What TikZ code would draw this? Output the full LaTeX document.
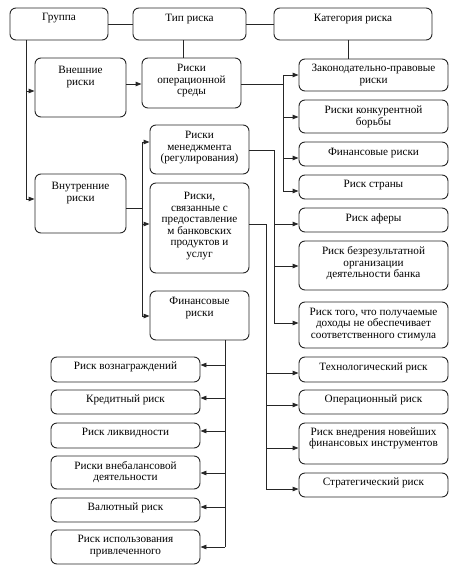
\documentclass[tikz,border=0pt]{standalone}
\usepackage{fontspec}
\setmainfont{Liberation Serif}
\newfontfamily\tnr{Liberation Serif}
\usetikzlibrary{arrows.meta,calc}
\tikzset{
  box/.style={draw=black!85, line width=0.9pt, rounded corners=6pt, inner sep=0pt},
  txt/.style={font=\tnr\fontsize{11.2}{11.5}\selectfont, align=center, inner sep=0pt, anchor=north},
  ln/.style={draw=black!85, line width=0.9pt},
  arr/.style={ln, -{Triangle[length=6pt,width=4.5pt]}}
}
% name, x1, x2, y1, y2, text offset, text
\newcommand\rbox[7]{%
  \node[box, minimum width={#3-#2}, minimum height={#5-#4}] (#1) at ({(#2+#3)/2},{-(#4+#5)/2}) {};
  \node[txt] (#1t) at ({(#2+#3)/2},{-#4-#6}) {#7};
}
\begin{document}
\begin{tikzpicture}[x=1pt,y=1pt]
\useasboundingbox (0,0) rectangle (457,-567);
% header
\rbox{grp}{10}{108}{8}{40}{5}{Группа}
\rbox{typ}{133}{246}{8}{40}{6}{Тип риска}
\rbox{cat}{274}{432}{8}{40}{6}{Категория риска}
% groups
\rbox{ext}{35}{126}{58}{117}{8}{Внешние\\риски}
\rbox{int}{35}{126}{174}{233}{8}{Внутренние\\риски}
% types
\rbox{opr}{142}{241}{58}{108}{6}{Риски\\операционной\\среды}
\rbox{men}{150}{249}{125}{174}{6}{Риски\\менеджмента\\(регулирования)}
\rbox{svz}{150}{249}{183}{273}{9}{Риски,\\связанные с\\предоставление\\м банковских\\продуктов и\\услуг}
\rbox{fin2}{150}{249}{291}{340}{6}{Финансовые\\риски}
% right categories
\rbox{zak}{299}{448}{59}{91}{5}{Законодательно-правовые\\риски}
\rbox{kon}{299}{448}{100}{133}{6}{Риски конкурентной\\борьбы}
\rbox{fin1}{299}{448}{142}{166}{6}{Финансовые риски}
\rbox{str}{299}{448}{175}{199}{5}{Риск страны}
\rbox{afe}{299}{448}{208}{232}{6}{Риск аферы}
\rbox{bez}{299}{448}{241}{290}{5.5}{Риск безрезультатной\\организации\\деятельности банка}
\rbox{tog}{299}{448}{302}{348}{5.5}{Риск того, что получаемые\\доходы не обеспечивает\\соответственного стимула}
\rbox{teh}{299}{448}{357}{382}{5.5}{Технологический риск}
\rbox{opn}{299}{448}{390}{414}{5}{Операционный риск}
\rbox{vnd}{299}{448}{423}{464}{4.5}{Риск внедрения новейших\\финансовых инструментов}
\rbox{stg}{299}{448}{473}{497}{4.5}{Стратегический риск}
% left categories
\rbox{voz}{51}{200}{357}{382}{5}{Риск вознаграждений}
\rbox{kre}{51}{200}{390}{414}{5}{Кредитный риск}
\rbox{lik}{51}{200}{423}{448}{4.5}{Риск ликвидности}
\rbox{vnb}{51}{200}{456}{489}{5}{Риски внебалансовой\\деятельности}
\rbox{val}{51}{200}{498}{522}{4.5}{Валютный риск}
\rbox{isp}{51}{200}{530}{564}{5}{Риск использования\\привлеченного}
% header links
\draw[ln] (grp.east) -- (typ.west);
\draw[ln] (typ.east) -- (cat.west);
\coordinate (cx1) at (183,0);
\coordinate (cx2) at (348,0);
\draw[ln] (typ.south -| cx1) -- (opr.north -| cx1);
\draw[ln] (cat.south -| cx2) -- (zak.north -| cx2);
% group trunk
\coordinate (g0) at (26,-40);
\coordinate (g1) at (26,-91);
\coordinate (g2) at (26,-199);
\draw[ln] (g0) -- (g2);
\draw[arr] (g1) -- (ext.west |- g1);
\draw[arr] (g2) -- (int.west |- g2);
% external -> operational
\coordinate (e1) at (0,-84);
\draw[arr] (ext.east |- e1) -- (opr.west |- e1);
% operational trunk
\coordinate (a0) at (283,-75);
\coordinate (a1) at (283,-117);
\coordinate (a2) at (283,-158);
\coordinate (a3) at (283,-191);
\draw[ln] (opr.east |- e1) -- (a0 |- e1);
\draw[ln] (a0) -- (a3);
\draw[arr] (a0) -- (zak.west |- a0);
\draw[arr] (a1) -- (kon.west |- a1);
\draw[arr] (a2) -- (fin1.west |- a2);
\draw[arr] (a3) -- (str.west |- a3);
% internal trunk
\coordinate (b0) at (142,-142);
\coordinate (b1) at (142,-224);
\coordinate (b2) at (142,-316);
\coordinate (bi) at (142,-208);
\draw[ln] (int.east |- bi) -- (bi);
\draw[ln] (b0) -- (b2);
\draw[arr] (b0) -- (men.west |- b0);
\draw[arr] (b1) -- (svz.west |- b1);
\draw[arr] (b2) -- (fin2.west |- b2);
% management trunk
\coordinate (m0) at (274,-150);
\coordinate (m1) at (274,-224);
\coordinate (m2) at (274,-266);
\coordinate (m3) at (274,-323);
\draw[ln] (men.east |- m0) -- (m0) -- (m3);
\draw[arr] (m1) -- (afe.west |- m1);
\draw[arr] (m2) -- (bez.west |- m2);
\draw[arr] (m3) -- (tog.west |- m3);
% products trunk
\coordinate (s0) at (266,-224);
\coordinate (s1) at (266,-373);
\coordinate (s2) at (266,-405);
\coordinate (s3) at (266,-448);
\coordinate (s4) at (266,-489);
\draw[ln] (svz.east |- s0) -- (s0) -- (s4);
\draw[arr] (s1) -- (teh.west |- s1);
\draw[arr] (s2) -- (opn.west |- s2);
\draw[arr] (s3) -- (vnd.west |- s3);
\draw[arr] (s4) -- (stg.west |- s4);
% financial trunk
\coordinate (f0) at (225,-340);
\coordinate (f1) at (225,-365);
\coordinate (f2) at (225,-398);
\coordinate (f3) at (225,-431);
\coordinate (f4) at (225,-473);
\coordinate (f5) at (225,-507);
\coordinate (f6) at (225,-547);
\draw[ln] (fin2.south -| f0) -- (f6);
\draw[arr] (f1) -- (voz.east |- f1);
\draw[arr] (f2) -- (kre.east |- f2);
\draw[arr] (f3) -- (lik.east |- f3);
\draw[arr] (f4) -- (vnb.east |- f4);
\draw[arr] (f5) -- (val.east |- f5);
\draw[arr] (f6) -- (isp.east |- f6);
\end{tikzpicture}
\end{document}
